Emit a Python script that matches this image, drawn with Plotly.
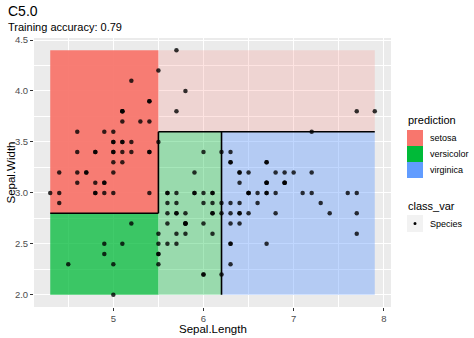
import plotly.graph_objects as go

# ---- data ----
sepal_length = [5.1,4.9,4.7,4.6,5.0,5.4,4.6,5.0,4.4,4.9,5.4,4.8,4.8,4.3,5.8,5.7,5.4,5.1,5.7,5.1,
                5.4,5.1,4.6,5.1,4.8,5.0,5.0,5.2,5.2,4.7,4.8,5.4,5.2,5.5,4.9,5.0,5.5,4.9,4.4,5.1,
                5.0,4.5,4.4,5.0,5.1,4.8,5.1,4.6,5.3,5.0,
                7.0,6.4,6.9,5.5,6.5,5.7,6.3,4.9,6.6,5.2,5.0,5.9,6.0,6.1,5.6,6.7,5.6,5.8,6.2,5.6,
                5.9,6.1,6.3,6.1,6.4,6.6,6.8,6.7,6.0,5.7,5.5,5.5,5.8,6.0,5.4,6.0,6.7,6.3,5.6,5.5,
                5.5,6.1,5.8,5.0,5.6,5.7,5.7,6.2,5.1,5.7,
                6.3,5.8,7.1,6.3,6.5,7.6,4.9,7.3,6.7,7.2,6.5,6.4,6.8,5.7,5.8,6.4,6.5,7.7,7.7,6.0,
                6.9,5.6,7.7,6.3,6.7,7.2,6.2,6.1,6.4,7.2,7.4,7.9,6.4,6.3,6.1,7.7,6.3,6.4,6.0,6.9,
                6.7,6.9,5.8,6.8,6.7,6.7,6.3,6.5,6.2,5.9]
sepal_width = [3.5,3.0,3.2,3.1,3.6,3.9,3.4,3.4,2.9,3.1,3.7,3.4,3.0,3.0,4.0,4.4,3.9,3.5,3.8,3.8,
               3.4,3.7,3.6,3.3,3.4,3.0,3.4,3.5,3.4,3.2,3.1,3.4,4.1,4.2,3.1,3.2,3.5,3.6,3.0,3.4,
               3.5,2.3,3.2,3.5,3.8,3.0,3.8,3.2,3.7,3.3,
               3.2,3.2,3.1,2.3,2.8,2.8,3.3,2.4,2.9,2.7,2.0,3.0,2.2,2.9,2.9,3.1,3.0,2.7,2.2,2.5,
               3.2,2.8,2.5,2.8,2.9,3.0,2.8,3.0,2.9,2.6,2.4,2.4,2.7,2.7,3.0,3.4,3.1,2.3,3.0,2.5,
               2.6,3.0,2.6,2.3,2.7,3.0,2.9,2.9,2.5,2.8,
               3.3,2.7,3.0,2.9,3.0,3.0,2.5,2.9,2.5,3.6,3.2,2.7,3.0,2.5,2.8,3.2,3.0,3.8,2.6,2.2,
               3.2,2.8,2.8,2.7,3.3,3.2,2.8,3.0,2.8,3.0,2.8,3.8,2.8,2.8,2.6,3.0,3.4,3.1,3.0,3.1,
               3.1,3.1,2.7,3.2,3.3,3.0,2.5,3.0,3.4,3.0]

region_x0 = [4.3, 5.5, 4.3, 5.5, 6.2]
region_x1 = [5.5, 7.9, 5.5, 6.2, 7.9]
region_y0 = [2.8, 3.6, 2.0, 2.0, 2.0]
region_y1 = [4.4, 4.4, 2.8, 3.6, 3.6]
region_class = ["setosa", "setosa", "versicolor", "versicolor", "virginica"]
region_prob = [0.95, 0.2, 0.75, 0.35, 0.4]

boundary_x = [[4.3, 5.5], [5.5, 5.5], [5.5, 7.9], [6.2, 6.2]]
boundary_y = [[2.8, 2.8], [2.8, 3.6], [3.6, 3.6], [2.0, 3.6]]

classes = ["setosa", "versicolor", "virginica"]
class_rgb = {"setosa": (248, 118, 109), "versicolor": (0, 186, 56), "virginica": (97, 156, 255)}

x_ticks = [5, 6, 7, 8]
y_ticks = [2.0, 2.5, 3.0, 3.5, 4.0, 4.5]

# ---- figure ----
W, H = 474, 338
L, R, T, B = 34, 83, 38, 31
pw, ph = W - L - R, H - T - B

def px_x(p):
    return (p - L) / pw

def px_y(p):
    return (H - B - p) / ph

fig = go.Figure()

for x0, x1, y0, y1, c, a in zip(region_x0, region_x1, region_y0, region_y1, region_class, region_prob):
    r, g, b = class_rgb[c]
    fig.add_trace(go.Scatter(
        x=[x0, x1, x1, x0, x0], y=[y0, y0, y1, y1, y0],
        mode="lines", fill="toself", fillcolor=f"rgba({r},{g},{b},{a})",
        line=dict(width=0, color="rgba(0,0,0,0)"), hoverinfo="skip", showlegend=False))

for bx, by in zip(boundary_x, boundary_y):
    fig.add_trace(go.Scatter(x=bx, y=by, mode="lines",
                             line=dict(color="black", width=1.6), showlegend=False, hoverinfo="skip"))

fig.add_trace(go.Scatter(x=sepal_length, y=sepal_width, mode="markers",
                         marker=dict(color="rgba(0,0,0,0.8)", size=4.5, line=dict(width=0)),
                         showlegend=False))

axis_common = dict(showgrid=True, gridcolor="white", gridwidth=1.1, zeroline=False,
                   ticks="outside", ticklen=3, tickwidth=1, tickcolor="#333333",
                   tickfont=dict(family="Liberation Sans, Arial", size=9.5, color="#4D4D4D"),
                   showline=False)

fig.update_layout(
    width=W, height=H,
    margin=dict(l=L, r=R, t=T, b=B),
    paper_bgcolor="white", plot_bgcolor="#EBEBEB",
    font=dict(family="Liberation Sans, Arial", color="black"),
    xaxis=dict(range=[4.12, 8.08], tickvals=x_ticks, ticktext=[str(v) for v in x_ticks],
               minor=dict(tickvals=[4.5, 5.5, 6.5, 7.5], showgrid=True, gridcolor="white",
                          gridwidth=0.5, ticks=""),
               **axis_common),
    yaxis=dict(range=[1.88, 4.52], tickvals=y_ticks, ticktext=[f"{v:.1f}" for v in y_ticks],
               minor=dict(tickvals=[2.25, 2.75, 3.25, 3.75, 4.25], showgrid=True, gridcolor="white",
                          gridwidth=0.5, ticks=""),
               **axis_common),
    showlegend=False,
)

ann = []
ann.append(dict(text="C5.0", x=px_x(6), y=px_y(11), xref="paper", yref="paper",
                xanchor="left", yanchor="middle", showarrow=False,
                font=dict(size=14, color="black")))
ann.append(dict(text="Training accuracy: 0.79", x=px_x(6), y=px_y(27), xref="paper", yref="paper",
                xanchor="left", yanchor="middle", showarrow=False,
                font=dict(size=11, color="black")))
ann.append(dict(text="Sepal.Length", x=0.5, y=px_y(329), xref="paper", yref="paper",
                xanchor="center", yanchor="middle", showarrow=False,
                font=dict(size=11.5, color="black")))
ann.append(dict(text="Sepal.Width", x=px_x(10), y=0.5, xref="paper", yref="paper",
                xanchor="center", yanchor="middle", showarrow=False, textangle=-90,
                font=dict(size=11.5, color="black")))

# legend: prediction
ann.append(dict(text="prediction", x=px_x(406), y=px_y(120), xref="paper", yref="paper",
                xanchor="left", yanchor="middle", showarrow=False, font=dict(size=11)))
shapes = []
for i, c in enumerate(classes):
    top = 130 + 16 * i
    r, g, b = class_rgb[c]
    shapes.append(dict(type="rect", xref="paper", yref="paper",
                       x0=px_x(407), x1=px_x(423), y0=px_y(top + 16), y1=px_y(top),
                       fillcolor=f"rgb({r},{g},{b})", line=dict(width=0)))
    ann.append(dict(text=c, x=px_x(428), y=px_y(top + 8), xref="paper", yref="paper",
                    xanchor="left", yanchor="middle", showarrow=False,
                    font=dict(size=9, color="black")))

ann.append(dict(text="class_var", x=px_x(406), y=px_y(206), xref="paper", yref="paper",
                xanchor="left", yanchor="middle", showarrow=False, font=dict(size=11)))
shapes.append(dict(type="rect", xref="paper", yref="paper",
                   x0=px_x(407), x1=px_x(423), y0=px_y(232), y1=px_y(215),
                   fillcolor="#F2F2F2", line=dict(width=0)))
shapes.append(dict(type="circle", xref="paper", yref="paper",
                   x0=px_x(413.5), x1=px_x(416.5), y0=px_y(225), y1=px_y(222),
                   fillcolor="black", line=dict(width=0)))
ann.append(dict(text="Species", x=px_x(428), y=px_y(223.5), xref="paper", yref="paper",
                xanchor="left", yanchor="middle", showarrow=False,
                font=dict(size=9, color="black")))

fig.update_layout(annotations=ann, shapes=shapes)
fig.write_html("out.html")
